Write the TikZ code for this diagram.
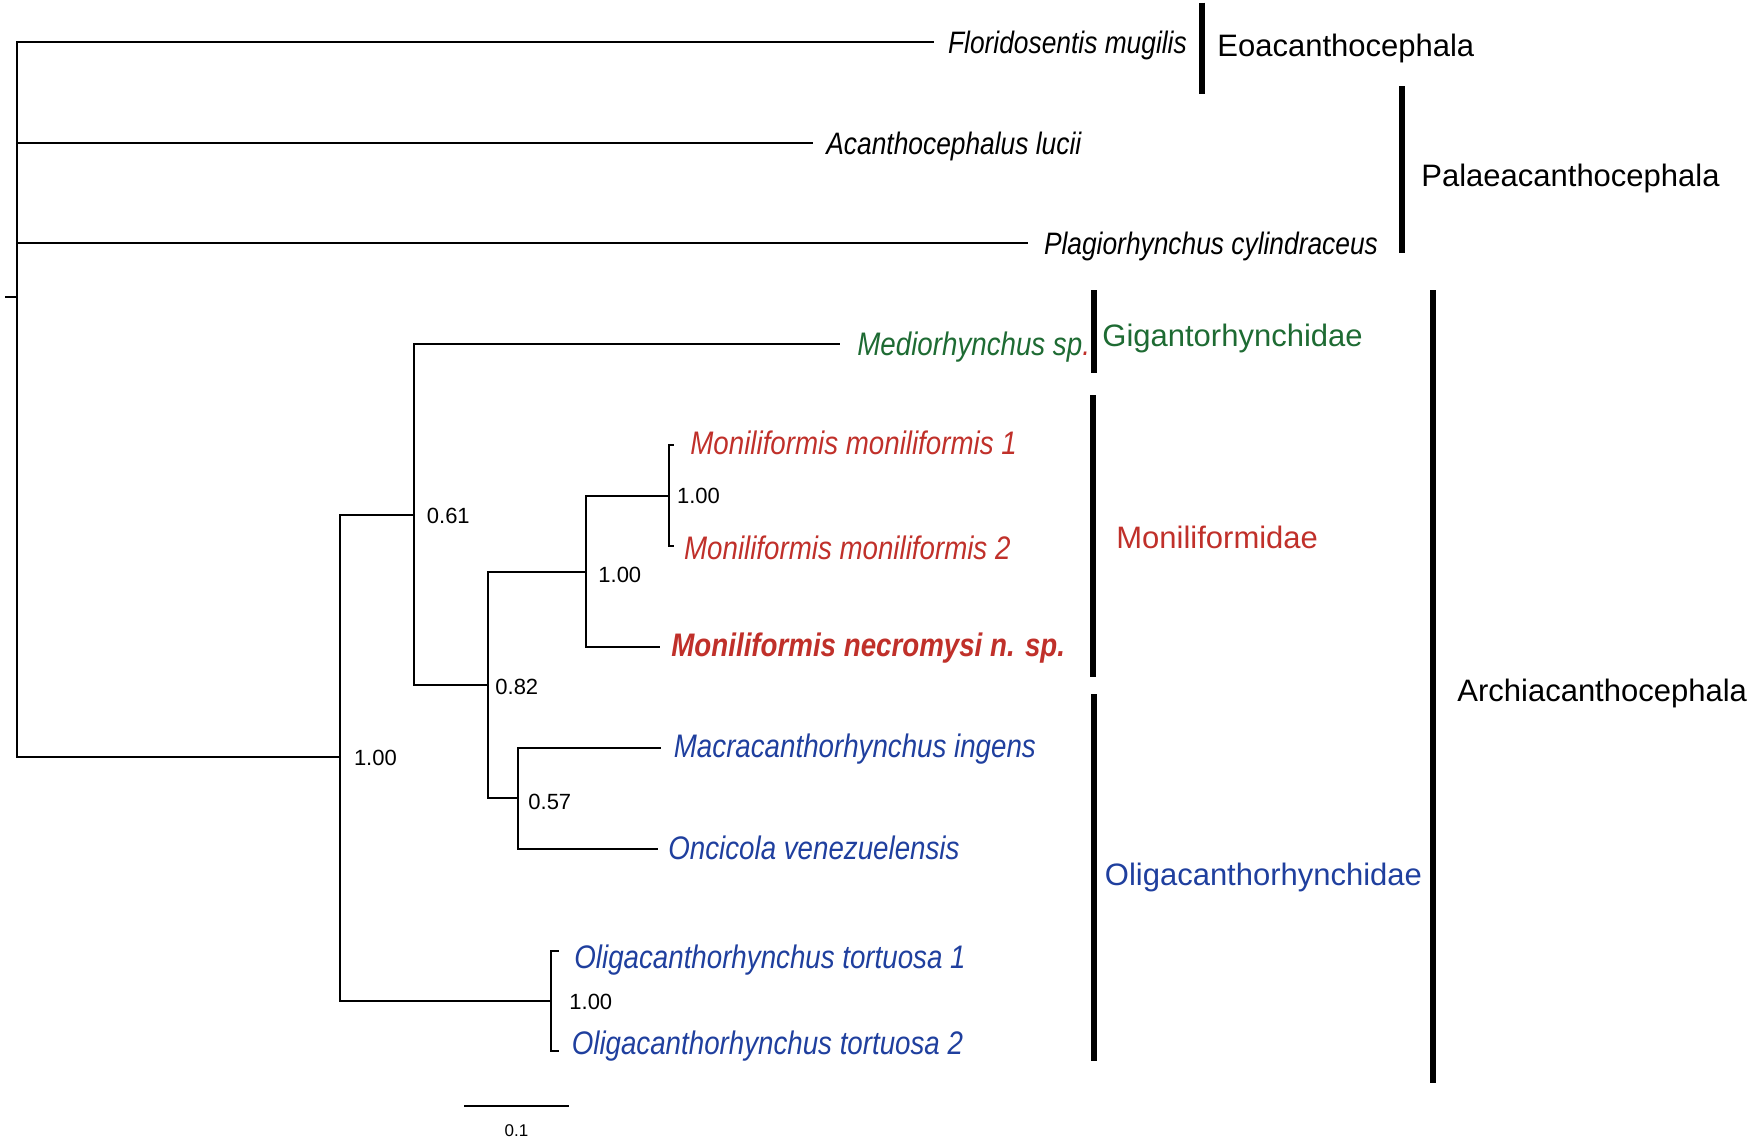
\documentclass[tikz,border=0pt]{standalone}
\usepackage{fontspec}
\setmainfont{Liberation Sans}
\newfontfamily\spfont[FakeStretch=0.85]{Liberation Sans}
\definecolor{cgreen}{RGB}{30,107,51}
\definecolor{cred}{RGB}{192,48,42}
\definecolor{cblue}{RGB}{31,63,158}
\begin{document}
\begin{tikzpicture}[x=0.5pt,y=-0.5pt,
  br/.style={line width=1pt,line join=miter,line cap=rect},
  cladebar/.style={line width=2.8pt},
  sp/.style={anchor=west,inner sep=0pt,text height=11.1pt,text depth=0pt,font=\fontsize{15.5pt}{18pt}\spfont\itshape},
  spc/.style={anchor=west,inner sep=0pt,text height=11.7pt,text depth=0pt,font=\fontsize{16.3pt}{19pt}\spfont\itshape},
  clade/.style={anchor=west,inner sep=0pt,text height=11.1pt,text depth=0pt,font=\fontsize{15.5pt}{18pt}\selectfont},
  num/.style={anchor=west,inner sep=0pt,font=\fontsize{11pt}{13pt}\selectfont}]
\useasboundingbox (0,0) rectangle (1750,1142);
% internal nodes
\coordinate (stem) at (6,297);
\coordinate (root) at (16.8,297);
\coordinate (nA) at (339.8,757);
\coordinate (nB) at (413.5,515);
\coordinate (nC) at (487.8,685);
\coordinate (nD) at (586.2,571.7);
\coordinate (nE) at (669,496);
\coordinate (nF) at (518.4,798.3);
\coordinate (nG) at (551,1000.7);
% branch ends
\coordinate (eFlor) at (933,41.5);
\coordinate (eAcan) at (811.5,142.5);
\coordinate (ePlag) at (1027,243);
\coordinate (eMedio) at (839.3,344);
\coordinate (eMM1) at (672.5,445);
\coordinate (eMM2) at (672.5,546);
\coordinate (eNecro) at (659,647.3);
\coordinate (eMacra) at (660,748);
\coordinate (eOnci) at (657,849.3);
\coordinate (eOT1) at (558,950.7);
\coordinate (eOT2) at (558,1050.7);
% tree
\draw[br] (stem) -- (root);
\draw[br] (root) |- (eFlor);
\draw[br] (root) |- (eAcan);
\draw[br] (root) |- (ePlag);
\draw[br] (root) |- (nA);
\draw[br] (nA) |- (nB);
\draw[br] (nA) |- (nG);
\draw[br] (nB) |- (eMedio);
\draw[br] (nB) |- (nC);
\draw[br] (nC) |- (nD);
\draw[br] (nC) |- (nF);
\draw[br] (nD) |- (nE);
\draw[br] (nD) |- (eNecro);
\draw[br] (nE) |- (eMM1);
\draw[br] (nE) |- (eMM2);
\draw[br] (nF) |- (eMacra);
\draw[br] (nF) |- (eOnci);
\draw[br] (nG) |- (eOT1);
\draw[br] (nG) |- (eOT2);
% species labels
\node[sp] (tFlor) at (947.7,42.5) {Floridosentis mugilis};
\node[sp] (tAcan) at (826,143) {Acanthocephalus lucii};
\node[sp] (tPlag) at (1043.6,243) {Plagiorhynchus cylindraceus};
\node[spc,text=cgreen] (tMedio) at (857,344) {Mediorhynchus sp\textcolor{cred}{.}};
\node[spc,text=cred] (tMM1) at (690,443) {Moniliformis moniliformis 1};
\node[spc,text=cred] (tMM2) at (683.7,548) {Moniliformis moniliformis 2};
\node[spc,text=cred,font=\fontsize{16.3pt}{19pt}\spfont\bfseries\itshape] (tNecro) at (671,645) {Moniliformis necromysi n. sp.};
\node[spc,text=cblue] (tMacra) at (673.5,746) {Macracanthorhynchus ingens};
\node[spc,text=cblue] (tOnci) at (668,848) {Oncicola venezuelensis};
\node[spc,text=cblue] (tOT1) at (574,957) {Oligacanthorhynchus tortuosa 1};
\node[spc,text=cblue] (tOT2) at (571.4,1043) {Oligacanthorhynchus tortuosa 2};
% support values
\node[num] (sA) at (353.6,758.3) {1.00};
\node[num] (sB) at (426.5,515.7) {0.61};
\node[num] (sC) at (495,686.7) {0.82};
\node[num] (sD) at (598,575) {1.00};
\node[num] (sE) at (676.7,496) {1.00};
\node[num] (sF) at (528,801.7) {0.57};
\node[num] (sG) at (569,1001.7) {1.00};
% clade bars
\draw[cladebar] (1202,2.7) -- (1202,94);
\draw[cladebar] (1402,86) -- (1402,253);
\draw[cladebar] (1094,290) -- (1094,373);
\draw[cladebar] (1093,395) -- (1093,677);
\draw[cladebar] (1094,694) -- (1094,1061);
\draw[cladebar] (1433,290) -- (1433,1083);
% clade labels
\node[clade] (cEo) at (1217,45) {Eoacanthocephala};
\node[clade] (cPal) at (1421,175) {Palaeacanthocephala};
\node[clade,text=cgreen] (cGig) at (1102,335) {Gigantorhynchidae};
\node[clade,text=cred] (cMon) at (1116,537) {Moniliformidae};
\node[clade,text=cblue] (cOli) at (1104.5,874) {Oligacanthorhynchidae};
\node[clade] (cArc) at (1457,690) {Archiacanthocephala};
% scale bar
\coordinate (sbL) at (464,1106);
\coordinate (sbR) at (569,1106);
\draw[br,line cap=butt] (sbL) -- (sbR);
\node[inner sep=0pt,font=\fontsize{8.5pt}{10pt}\selectfont] (sbLab) at (516.5,1131) {0.1};
\end{tikzpicture}
\end{document}
